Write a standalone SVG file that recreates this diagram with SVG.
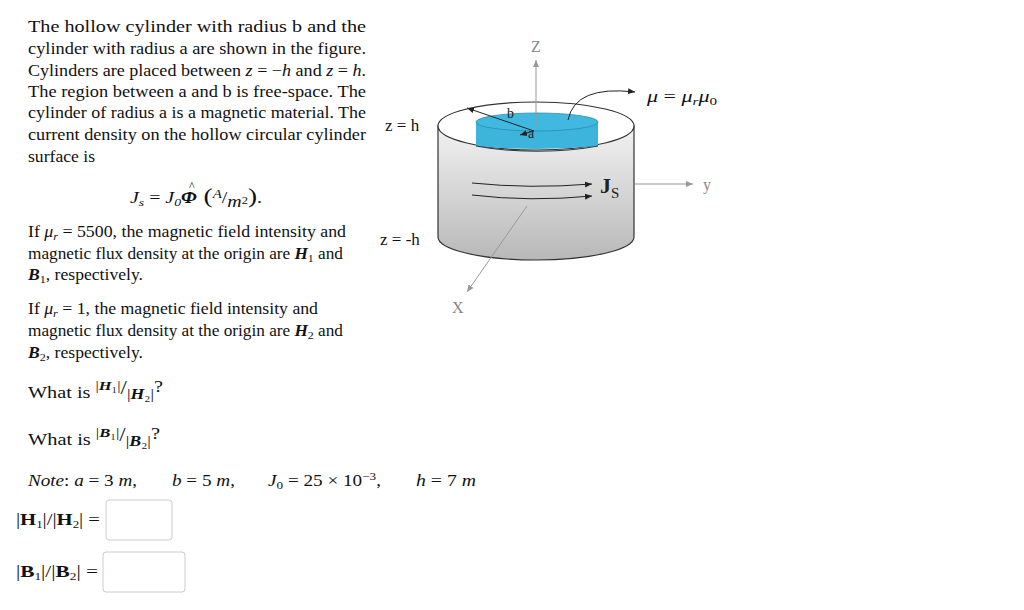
<svg xmlns="http://www.w3.org/2000/svg" width="1024" height="610" viewBox="0 0 1024 610">
<style>
.t{font-family:"Liberation Serif",serif;font-size:16px;fill:#111}
.m{font-family:"Liberation Serif",serif;font-style:italic;font-size:16px;fill:#111}
.ax{stroke:#999;stroke-width:1;fill:none}
.lb{font-family:"Liberation Serif",serif;font-size:16px;fill:#888}
.bl{stroke:#222;stroke-width:1;fill:none}
</style>
<defs>
<marker id="ga" markerWidth="8" markerHeight="8" refX="7" refY="4" orient="auto" markerUnits="userSpaceOnUse"><path d="M0,1 L7,4 L0,7z" fill="#999"/></marker>
<marker id="ka" markerWidth="8" markerHeight="8" refX="7" refY="4" orient="auto" markerUnits="userSpaceOnUse"><path d="M0,1 L7,4 L0,7z" fill="#222"/></marker>
<linearGradient id="gr" x1="0" y1="0" x2="0" y2="1"><stop offset="0" stop-color="#f2f2f2"/><stop offset="1" stop-color="#b8b8b8"/></linearGradient>
</defs>
<rect width="1024" height="610" fill="#fff"/>
<g id="text">
<text class="t" x="28" y="32" textLength="338" lengthAdjust="spacingAndGlyphs">The hollow cylinder with radius b and the</text>
<text class="t" x="28" y="54" textLength="338" lengthAdjust="spacingAndGlyphs">cylinder with radius a are shown in the figure.</text>
<text class="t" x="28" y="76" textLength="338" lengthAdjust="spacingAndGlyphs">Cylinders are placed between <tspan class="m">z</tspan> = −<tspan class="m">h</tspan> and <tspan class="m">z</tspan> = <tspan class="m">h</tspan>.</text>
<text class="t" x="28" y="97" textLength="338" lengthAdjust="spacingAndGlyphs">The region between a and b is free-space. The</text>
<text class="t" x="28" y="118" textLength="338" lengthAdjust="spacingAndGlyphs">cylinder of radius a is a magnetic material. The</text>
<text class="t" x="28" y="140" textLength="338" lengthAdjust="spacingAndGlyphs">current density on the hollow circular cylinder</text>
<text class="t" x="28" y="162" textLength="67" lengthAdjust="spacingAndGlyphs">surface is</text>
<text class="m" x="130" y="203" font-size="16" textLength="132" lengthAdjust="spacingAndGlyphs">J<tspan font-size="11" dy="3">s</tspan><tspan dy="-3" font-style="normal"> = </tspan>J<tspan font-size="11" dy="3">0</tspan><tspan dy="-3" font-weight="bold">Φ</tspan><tspan font-style="normal" font-size="22"> (</tspan><tspan font-size="12" dy="-5">A</tspan><tspan dy="5" font-style="normal">/</tspan><tspan dy="4">m</tspan><tspan font-size="10" dy="-3" font-style="normal">2</tspan><tspan font-style="normal" font-size="22" dy="-1">)</tspan><tspan font-style="normal">.</tspan></text>
<text x="189" y="190" font-family="Liberation Serif,serif" font-size="12" fill="#111">^</text>
<text class="t" x="28" y="237" textLength="318" lengthAdjust="spacingAndGlyphs">If <tspan class="m">μ</tspan><tspan font-size="11" dy="3" font-style="italic">r</tspan><tspan dy="-3"> = 5500, the magnetic field intensity and</tspan></text>
<text class="t" x="28" y="259" textLength="315" lengthAdjust="spacingAndGlyphs">magnetic flux density at the origin are <tspan font-weight="bold" font-style="italic">H</tspan><tspan font-size="11" dy="3">1</tspan><tspan dy="-3"> and</tspan></text>
<text class="t" x="28" y="280" textLength="115" lengthAdjust="spacingAndGlyphs"><tspan font-weight="bold" font-style="italic">B</tspan><tspan font-size="11" dy="3">1</tspan><tspan dy="-3">, respectively.</tspan></text>
<text class="t" x="28" y="314" textLength="290" lengthAdjust="spacingAndGlyphs">If <tspan class="m">μ</tspan><tspan font-size="11" dy="3" font-style="italic">r</tspan><tspan dy="-3"> = 1, the magnetic field intensity and</tspan></text>
<text class="t" x="28" y="336" textLength="315" lengthAdjust="spacingAndGlyphs">magnetic flux density at the origin are <tspan font-weight="bold" font-style="italic">H</tspan><tspan font-size="11" dy="3">2</tspan><tspan dy="-3"> and</tspan></text>
<text class="t" x="28" y="358" textLength="115" lengthAdjust="spacingAndGlyphs"><tspan font-weight="bold" font-style="italic">B</tspan><tspan font-size="11" dy="3">2</tspan><tspan dy="-3">, respectively.</tspan></text>
<text class="t" x="28" y="398" textLength="135" lengthAdjust="spacingAndGlyphs">What is <tspan font-size="13" dy="-8">|<tspan font-weight="bold" font-style="italic">H</tspan>₁|</tspan><tspan dy="4" font-size="18">/</tspan><tspan font-size="14" dy="5">|<tspan font-weight="bold" font-style="italic">H</tspan>₂|</tspan><tspan dy="-7">?</tspan></text>
<text class="t" x="28" y="445" textLength="132" lengthAdjust="spacingAndGlyphs">What is <tspan font-size="13" dy="-8">|<tspan font-weight="bold" font-style="italic">B</tspan>₁|</tspan><tspan dy="4" font-size="18">/</tspan><tspan font-size="14" dy="5">|<tspan font-weight="bold" font-style="italic">B</tspan>₂|</tspan><tspan dy="-7">?</tspan></text>
<text class="m" x="28" y="486" textLength="109" lengthAdjust="spacingAndGlyphs">Note<tspan font-style="normal">:</tspan> a <tspan font-style="normal">= 3</tspan> m<tspan font-style="normal">,</tspan></text>
<text class="m" x="172" y="486" textLength="63" lengthAdjust="spacingAndGlyphs">b <tspan font-style="normal">= 5</tspan> m<tspan font-style="normal">,</tspan></text>
<text class="m" x="268" y="486" textLength="113" lengthAdjust="spacingAndGlyphs">J<tspan font-size="11" dy="3" font-style="normal">0</tspan><tspan dy="-3" font-style="normal"> = 25 × 10</tspan><tspan font-size="11" dy="-6" font-style="normal">−3</tspan><tspan dy="6" font-style="normal">,</tspan></text>
<text class="m" x="416" y="486" textLength="60" lengthAdjust="spacingAndGlyphs">h <tspan font-style="normal">= 7</tspan> m</text>
</g>
<g id="answer1">
<text class="t" x="16" y="525" font-size="13" textLength="84" lengthAdjust="spacingAndGlyphs">|<tspan font-weight="bold">H</tspan><tspan font-size="10" dy="3">1</tspan><tspan dy="-3">|/|</tspan><tspan font-weight="bold">H</tspan><tspan font-size="10" dy="3">2</tspan><tspan dy="-3">|  =</tspan></text>
<rect x="106" y="500" width="66" height="40" rx="3" fill="#fff" stroke="#ccc"/>
</g>
<g id="answer2">
<text class="t" x="16" y="577" font-size="13" textLength="82" lengthAdjust="spacingAndGlyphs">|<tspan font-weight="bold">B</tspan><tspan font-size="10" dy="3">1</tspan><tspan dy="-3">|/|</tspan><tspan font-weight="bold">B</tspan><tspan font-size="10" dy="3">2</tspan><tspan dy="-3">|  =</tspan></text>
<rect x="103" y="552" width="82" height="40" rx="3" fill="#fff" stroke="#ccc"/>
</g>
<g id="cylinder">
<path d="M438,126 L438,237 A98,23 0 0 0 634,237 L634,126 Z" fill="url(#gr)" stroke="#333" stroke-width="1.2"/>
<ellipse cx="536" cy="126" rx="98" ry="24" fill="#fff" stroke="#333" stroke-width="1.2"/>
<path d="M476,122 L476,146 Q537,152 598,146 L598,122 Z" fill="#3db4dc"/>
<path d="M476,146 A98,24 0 0 0 598,146" fill="none" stroke="#333" stroke-width="1"/>
<ellipse cx="537" cy="122" rx="61" ry="9" fill="#40b8e0" stroke="#2a8fb0" stroke-width="0.8"/>
<text x="507" y="118" font-family="Liberation Serif,serif" font-size="14" fill="#222">b</text>
<text x="528" y="138" font-family="Liberation Serif,serif" font-size="14" fill="#222">a</text>
<text x="385" y="131" font-family="Liberation Serif,serif" font-size="17" fill="#111">z = h</text>
<text x="380" y="245" font-family="Liberation Serif,serif" font-size="17" fill="#111">z = -h</text>
<text x="600" y="193" font-family="Liberation Serif,serif" font-size="22" font-weight="bold" fill="#222">J<tspan font-size="15" font-weight="normal" dy="5">S</tspan></text>
<text x="647" y="102" font-family="Liberation Serif,serif" font-style="italic" font-size="16" fill="#111" textLength="70" lengthAdjust="spacingAndGlyphs">μ <tspan font-style="normal">=</tspan> μ<tspan font-size="11" dy="3">r</tspan><tspan dy="-3">μ</tspan><tspan font-size="11" dy="3" font-style="normal">0</tspan></text>
</g>
<g id="connectors">
<line class="ax" x1="536" y1="126" x2="536" y2="60" marker-end="url(#ga)"/>
<line class="ax" x1="635" y1="184" x2="693" y2="184" marker-end="url(#ga)"/>
<line class="ax" x1="527" y1="206" x2="467" y2="292" marker-end="url(#ga)"/>
<path class="bl" d="M472,183 Q530,189 592,184" marker-end="url(#ka)"/>
<path class="bl" d="M472,195 Q530,202 592,196" marker-end="url(#ka)"/>
<line class="bl" x1="534" y1="131" x2="467" y2="108" marker-end="url(#ka)"/>
<line class="bl" x1="534" y1="131" x2="520" y2="135" marker-end="url(#ka)"/>
<path class="bl" d="M568,120 Q575,85 635,92" marker-end="url(#ka)"/>
</g>
<g id="axis-labels">
<text class="lb" x="531" y="52">Z</text>
<text class="lb" x="703" y="190">y</text>
<text class="lb" x="452" y="313">X</text>
</g>
</svg>
